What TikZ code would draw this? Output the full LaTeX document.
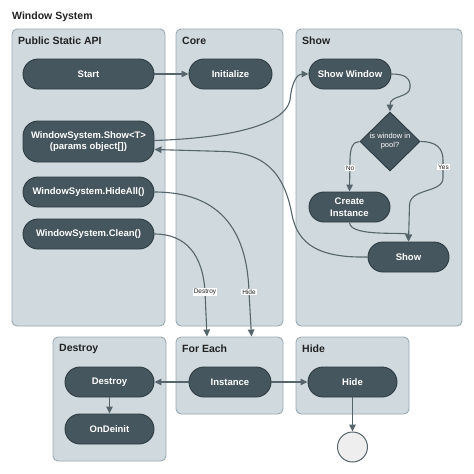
\documentclass[tikz,border=0pt]{standalone}
\usepackage{fontspec}
\setmainfont{Liberation Sans}
\usetikzlibrary{arrows.meta,shapes.geometric,calc}
\definecolor{contfill}{HTML}{CFD9DE}
\definecolor{contdraw}{HTML}{9AAAB2}
\definecolor{nodefill}{HTML}{46565E}
\definecolor{nodedraw}{HTML}{2E3C42}
\definecolor{linec}{HTML}{56656C}
\definecolor{titlec}{HTML}{222222}
\definecolor{endfill}{HTML}{EEEEEE}
\begin{document}
\begin{tikzpicture}[x=1pt,y=-1pt,
 cont/.style={draw=contdraw,fill=contfill,line width=0.9pt,rounded corners=5pt,inner sep=0pt},
 ctitle/.style={anchor=west,font=\bfseries\fontsize{10.5}{12}\selectfont,text=titlec,inner sep=0pt},
 pill/.style={draw=nodedraw,fill=nodefill,line width=0.9pt,rounded corners=15pt,minimum height=30pt,inner sep=0pt,align=center,text=white,font=\bfseries\fontsize{9.5}{11.5}\selectfont},
 dec/.style={diamond,draw=nodedraw,fill=nodefill,line width=0.9pt,minimum width=60pt,minimum height=59pt,inner sep=0pt,align=center,text=white,font=\fontsize{7.5}{9}\selectfont},
 conn/.style={draw=linec,line width=1.1pt,-{Triangle[length=7pt,width=6.5pt]}},
 lab/.style={fill=white,inner sep=1pt,font=\fontsize{6.5}{7.5}\selectfont,text=titlec},
 endst/.style={circle,draw=linec,fill=endfill,line width=1pt,minimum size=30pt,inner sep=0pt}
]
\useasboundingbox (0,0) rectangle (474,474);

% title
\node[ctitle] (title) at (12,17) {Window System};

% containers
\node[cont,minimum width=153pt,minimum height=297pt] (api) at (88.5,177.5) {};
\node[cont,minimum width=107pt,minimum height=297pt] (core) at (229.5,177.5) {};
\node[cont,minimum width=166pt,minimum height=297pt] (showc) at (379,177.5) {};
\node[cont,minimum width=113pt,minimum height=124pt] (destroyc) at (109.5,399) {};
\node[cont,minimum width=107pt,minimum height=77pt] (foreach) at (229.5,375.5) {};
\node[cont,minimum width=113pt,minimum height=77pt] (hidec) at (352.5,375.5) {};

\node[ctitle] (apiT) at (18,41) {Public Static API};
\node[ctitle] (coreT) at (182,41) {Core};
\node[ctitle] (showT) at (302,41) {Show};
\node[ctitle] (destroyT) at (59,349) {Destroy};
\node[ctitle] (foreachT) at (182,349) {For Each};
\node[ctitle] (hideT) at (302,349) {Hide};

% nodes
\node[pill,minimum width=131pt] (start) at (88.5,74) {Start};
\node[pill,minimum width=131pt,minimum height=41pt] (showt) at (88.5,141.5) {WindowSystem.Show<T>\\(params object[])};
\node[pill,minimum width=131pt] (hideall) at (88.5,192) {WindowSystem.HideAll()};
\node[pill,minimum width=131pt] (clean) at (88.5,234) {WindowSystem.Clean()};
\node[pill,minimum width=83pt] (init) at (230.5,74) {Initialize};
\node[pill,minimum width=82pt] (sw) at (350,74) {Show Window};
\node[dec] (d) at (390,141.5) {is window in\\pool?};
\node[pill,minimum width=81pt] (cre) at (349.5,207) {Create\\Instance};
\node[pill,minimum width=81pt] (shown) at (408.5,257) {Show};
\node[pill,minimum width=89pt] (destroyn) at (109.5,382) {Destroy};
\node[pill,minimum width=89pt] (ondeinit) at (109.5,429) {OnDeinit};
\node[pill,minimum width=82pt] (inst) at (230,382) {Instance};
\node[pill,minimum width=89pt] (hiden) at (352.5,382) {Hide};
\node[endst] (endc) at (352.5,447) {};

% connectors
\draw[conn] (start.east) -- (init.west);
\draw[conn] ($(showt.east)+(0,-1)$) .. controls (230,138) and (285,125) .. (290,100)
   .. controls (292,80) and (298,74) .. (sw.west);
\draw[conn] (shown.west) .. controls (320,258) and (298,245) .. (292,215)
   .. controls (284,170) and (262,153) .. (225,151.5) -- ($(showt.east)+(0,8)$);
\draw[conn] (sw.east) .. controls (405,74) and (411,78) .. (410,88)
   .. controls (409,98) and (390,95) .. (d.north);
\draw[conn] (d.west) .. controls (353,141.5) and (350,148) .. (350,160) node[pos=1,lab,yshift=-8pt] {No} -- (cre.north);
\draw[conn] (d.east) .. controls (436,141.5) and (443,148) .. (443,160) -- (443,178)
   .. controls (443,193) and (410,188) .. (409.5,205) -- (shown.north);
\node[lab] (yes) at (443.5,167) {Yes};
\draw[conn] (cre.south) .. controls (350,238) and (408.5,231) .. (shown.north);
\draw[conn] (hideall.east) .. controls (218,192) and (247,228) .. (249,292) node[lab] {Hide} -- ([xshift=22pt]foreach.north);
\draw[conn] (clean.east) .. controls (186,234) and (203,255) .. (205,292) node[lab] {Destroy} -- ([xshift=-22.5pt]foreach.north);
\draw[conn] (inst.west) -- (destroyn.east);
\draw[conn] (inst.east) -- (hiden.west);
\draw[conn] (destroyn.south) -- (ondeinit.north);
\draw[conn] (hiden.south) -- (endc.north);
\end{tikzpicture}
\end{document}
